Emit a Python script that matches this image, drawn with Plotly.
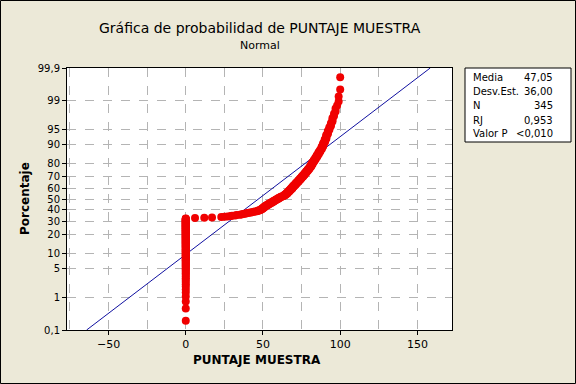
import plotly.graph_objects as go
from statistics import NormalDist

# ---- data ----
scores = [0, 6, 12, 17, 23, 25, 27, 29, 30, 32, 33, 35,
          36, 37, 38, 39, 40, 41, 42, 43, 44, 45, 46, 47, 48,
          49, 50, 51, 52, 53, 54, 55, 56, 57, 58, 59, 60, 61, 62, 63,
          64, 65, 66, 67, 68, 69,
          70, 71, 72, 73, 74, 75, 76,
          77, 78, 79, 80, 81, 82,
          83, 84, 85, 86, 87,
          88, 89, 90, 91,
          92, 93, 94, 95,
          96, 97, 98, 99, 100]
counts = [112, 1, 1, 1, 1, 1, 1, 1, 1, 1, 1, 1,
          1, 1, 1, 1, 1, 1, 1, 1, 1, 1, 1, 2, 2,
          3, 4, 4, 3, 3, 3, 3, 3, 3, 3, 3, 3, 3, 2, 2,
          4, 4, 5, 5, 5, 6,
          5, 5, 5, 5, 5, 5, 5,
          5, 5, 5, 5, 6, 6,
          5, 5, 5, 5, 4,
          5, 5, 5, 5,
          4, 3, 3, 3,
          2, 2, 1, 2, 2]

mean_val = 47.05
sd_val = 36.00
stat_labels = ["Media", "Desv.Est.", "N", "RJ", "Valor P"]
stat_values = ["47,05", "36,00", "345", "0,953", "<0,010"]

pct_ticks = [0.1, 1, 5, 10, 20, 30, 40, 50, 60, 70, 80, 90, 95, 99, 99.9]
pct_text = ["0,1", "1", "5", "10", "20", "30", "40", "50", "60", "70", "80", "90", "95", "99", "99,9"]
x_ticks = [-50, 0, 50, 100, 150]

# ---- probability-scale transform ----
nd = NormalDist()
data = []
for s, c in zip(scores, counts):
    data += [s] * c
data.sort()
n = len(data)
zpos = [nd.inv_cdf((i - 0.3) / (n + 0.4)) for i in range(1, n + 1)]

zlo = nd.inv_cdf(0.001)
zhi = nd.inv_cdf(0.999)
line_z = [zlo, zhi]
line_x = [mean_val + sd_val * z for z in line_z]

fig = go.Figure()
fig.add_trace(go.Scatter(x=line_x, y=line_z, mode="lines",
                         line=dict(color="#1010A0", width=1), hoverinfo="skip"))
fig.add_trace(go.Scatter(x=data, y=zpos, mode="markers",
                         marker=dict(color="#F00000", size=8, line=dict(width=0))))

FONT = "DejaVu Sans"
# plot area in pixels: x 67..452, y 68..330
L, R, T, B = 67, 452, 68, 330
W, H = R - L, B - T
def px(x):
    return (x - L) / W
def py(y):
    return (B - y) / H

fig.update_layout(
    width=576, height=384,
    margin=dict(l=L, r=576 - R, t=T, b=384 - B),
    paper_bgcolor="#ECE9D8", plot_bgcolor="white",
    showlegend=False,
    font=dict(family=FONT, size=11, color="black"),
)
fig.update_xaxes(
    range=[-76.9, 172.4], tickvals=x_ticks, ticks="outside", ticklen=4,
    tickcolor="black", showline=True, linecolor="black", linewidth=1, mirror=True,
    showgrid=False, zeroline=False,
    minor=dict(dtick=25, tick0=0, showgrid=True, gridcolor="#B4B4B4", griddash="dash", ticks=""),
    tickfont=dict(family=FONT, size=11),
)
fig.update_yaxes(
    range=[zlo, zhi], tickvals=[nd.inv_cdf(p / 100) for p in pct_ticks], ticktext=pct_text,
    ticks="outside", ticklen=4, tickcolor="black",
    showline=True, linecolor="black", linewidth=1, mirror=True,
    showgrid=True, gridcolor="#B4B4B4", griddash="dash", zeroline=False,
    tickfont=dict(family=FONT, size=10),
)

def note(text, x, y, size, xanchor="center", angle=0):
    return dict(text=text, x=px(x), y=py(y), xref="paper", yref="paper",
                xanchor=xanchor, yanchor="middle", showarrow=False, textangle=angle,
                font=dict(family=FONT, size=size))

ann = [
    note("Gráfica de probabilidad de PUNTAJE MUESTRA", 260, 28, 14),
    note("Normal", 260, 46, 11),
    note("<b>PUNTAJE MUESTRA</b>", 257, 360, 12),
    note("<b>Porcentaje</b>", 25, 199, 12, angle=-90),
]
rows_y = [77, 91.5, 105.5, 120, 133.5]
for lab, val, yy in zip(stat_labels, stat_values, rows_y):
    ann.append(note(lab, 471, yy, 10, xanchor="left"))
    ann.append(note(val, 555, yy, 10, xanchor="right"))
fig.update_layout(annotations=ann)

fig.add_shape(type="rect", xref="paper", yref="paper", x0=px(465), x1=px(571), y0=py(142), y1=py(68),
              line=dict(color="black", width=1), fillcolor="white", layer="below")
fig.add_shape(type="rect", xref="paper", yref="paper", x0=px(0.5), x1=px(575.5), y0=py(383.5), y1=py(0.5),
              line=dict(color="black", width=1))

fig.write_html("out.html", config={"displayModeBar": False},
               post_script="document.body.style.margin='0px';document.body.style.overflow='hidden';")
